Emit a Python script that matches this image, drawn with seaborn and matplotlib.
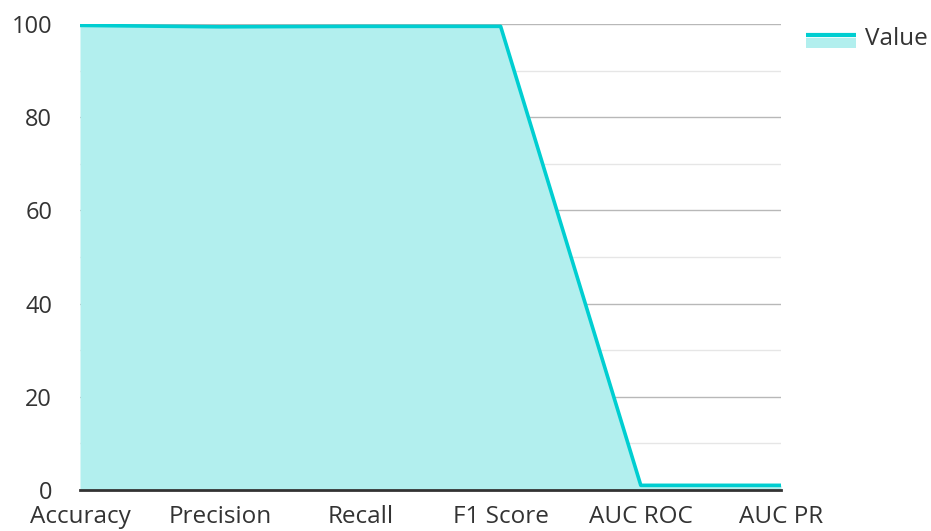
import numpy as np
import pandas as pd
import matplotlib
matplotlib.use("Agg")
import matplotlib.pyplot as plt
import seaborn as sns
from matplotlib.patches import Rectangle
from matplotlib.lines import Line2D
from matplotlib.legend_handler import HandlerBase

metrics = ["Accuracy", "Precision", "Recall", "F1 Score", "AUC ROC", "AUC PR"]
values = [99.7, 99.4, 99.5, 99.5, 1.0, 1.0]

df = pd.DataFrame({"metric": metrics, "value": values})
df["pos"] = np.arange(len(df))

sns.set_style("white")
plt.rcParams["font.family"] = ["Open Sans", "DejaVu Sans"]

line_color = "#00CED1"
fill_color = "#B2EFEE"
text_color = "#333333"


# legend key: line on top, filled box underneath
class AreaHandler(HandlerBase):
    def create_artists(self, legend, orig_handle, xdescent, ydescent,
                       width, height, fontsize, trans):
        box = Rectangle((-xdescent, -ydescent - 0.15 * height), width, 0.59 * height,
                        facecolor=fill_color, edgecolor="none", transform=trans)
        ln = Line2D([-xdescent, -xdescent + width], [-ydescent + 0.56 * height] * 2,
                    color=line_color, linewidth=3, solid_capstyle="butt", transform=trans)
        return [box, ln]


fig = plt.figure(figsize=(9.31, 5.31), dpi=100)
ax = fig.add_axes([80 / 931, 41 / 531, 701 / 931, 466 / 531])

ax.fill_between(df["pos"], df["value"], 0, color=fill_color, linewidth=0, zorder=2)
sns.lineplot(data=df, x="pos", y="value", ax=ax, color=line_color, linewidth=2.6, zorder=3)

ax.set_xlim(0, len(df) - 1)
ax.set_ylim(0, 100)
ax.set_xticks(df["pos"])
ax.set_xticklabels(metrics)
ax.set_yticks([0, 20, 40, 60, 80, 100])
ax.set_yticks([10, 30, 50, 70, 90], minor=True)
ax.set_xlabel("")
ax.set_ylabel("")

ax.grid(axis="y", which="major", color="#B8B8B8", linewidth=1)
ax.grid(axis="y", which="minor", color="#E6E6E6", linewidth=1)
ax.set_axisbelow(True)
for s in ["top", "right", "left"]:
    ax.spines[s].set_visible(False)
ax.spines["bottom"].set_color(text_color)
ax.spines["bottom"].set_linewidth(2)

ax.tick_params(axis="both", which="both", length=0, labelcolor=text_color)
ax.tick_params(axis="x", labelsize=17.5, pad=11)
ax.tick_params(axis="y", labelsize=17, pad=20)

leg = fig.legend([object()], ["Value"], loc="upper left",
                 bbox_to_anchor=(806 / 931, 1 - 27 / 531),
                 frameon=False, fontsize=17.5, handlelength=2.05, handletextpad=0.37,
                 borderpad=0, borderaxespad=0, handler_map={object: AreaHandler()})
for t in leg.get_texts():
    t.set_color(text_color)

fig.savefig("out.png", dpi=100)
